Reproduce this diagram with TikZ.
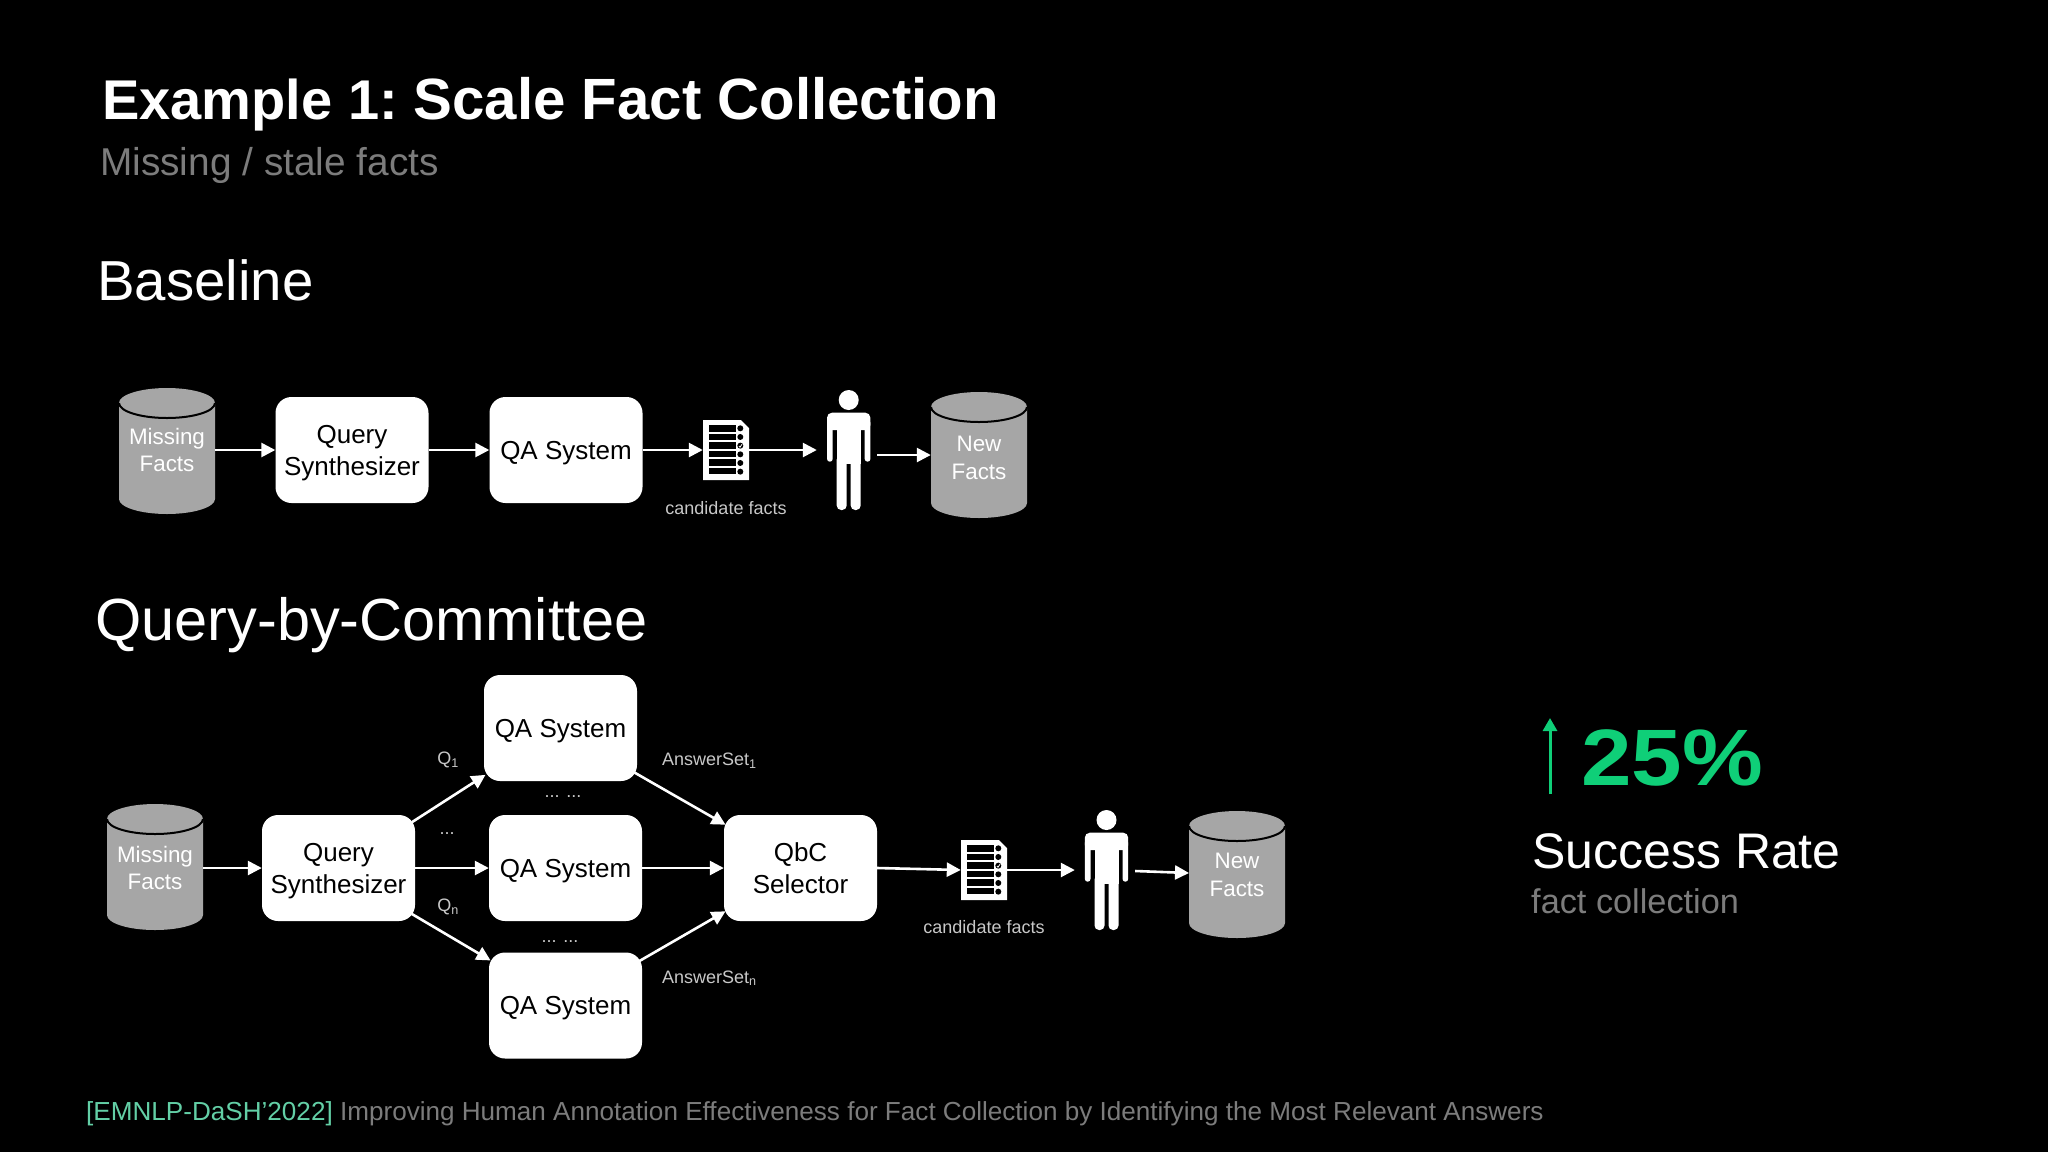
\documentclass[tikz,border=0pt]{standalone}
\usepackage{fontspec}
\setmainfont{Liberation Sans}
\usetikzlibrary{arrows.meta}
\definecolor{cylgrey}{HTML}{A6A6A6}
\definecolor{subgrey}{HTML}{7C7C7C}
\definecolor{lablgrey}{HTML}{C8C8C8}
\definecolor{upgreen}{HTML}{0FCF78}
\definecolor{mint}{HTML}{63CFA6}
\newcommand{\fs}[1]{\fontsize{#1}{#1}\selectfont}
\newcommand{\dbcyl}[3]{% cx, top, bottom
  \fill[cylgrey] (#1-48,#2+15) -- (#1-48,#3-15) arc[start angle=180,end angle=0,x radius=48,y radius=15] -- (#1+48,#2+15) -- cycle;
  \fill[cylgrey] (#1,#2+15) ellipse[x radius=48,y radius=15];
  \draw[black,line width=2pt] (#1-48,#2+15) arc[start angle=180,end angle=0,x radius=48,y radius=15];
}
\newcommand{\personfig}[2]{% head centre
  \begin{scope}[shift={(#1,#2)}]
    \fill[white] (0,0) circle[radius=10];
    \fill[white,rounded corners=5pt] (-21.7,12.7) rectangle (21.7,30);
    \fill[white,rounded corners=2.8pt] (-21.7,20) rectangle (-16,61.7);
    \fill[white,rounded corners=2.8pt] (16,20) rectangle (21.7,61.7);
    \fill[white] (-12,20) rectangle (12,64);
    \fill[white,rounded corners=4.5pt] (-12,55) rectangle (-2,110);
    \fill[white,rounded corners=4.5pt] (2,55) rectangle (12,110);
  \end{scope}
}
\newcommand{\docfig}[2]{% top-left corner
  \begin{scope}[shift={(#1,#2)}]
    \fill[white] (0,0) -- (38,0) -- (46,8) -- (46,60) -- (0,60) -- cycle;
    \foreach \i in {0,...,5} {
      \fill[black] (5.7,5+8.5*\i) rectangle (33,5+8.5*\i+6.6);
      \fill[black] (37.3,8.3+8.67*\i) circle[radius=3];
    }
    \draw[white,line width=.8pt] (36,26) -- (37,27.2) -- (39,24.2);
  \end{scope}
}
\tikzset{
  x=1pt,y=-1pt,
  procbox/.style={fill=white,text=black,rounded corners=16pt,minimum width=153pt,minimum height=106pt,inner sep=0pt,align=center,font=\fs{26},text depth=0pt},
  cyltext/.style={text=white,inner sep=0pt,minimum width=96pt,minimum height=20pt,align=center,font=\fs{22.4}},
  iconbox/.style={inner sep=0pt,minimum width=46pt,minimum height=60pt},
  personbox/.style={inner sep=0pt,minimum width=60pt,minimum height=110pt},
  conn/.style={white,line width=2.6pt,-{Triangle[length=14pt,width=14pt]}},
  diag/.style={conn,shorten <=-4pt,shorten >=-2pt},
  small/.style={text=lablgrey,inner sep=0pt,font=\fs{18}},
  txt/.style={anchor=base west,inner sep=0pt},
}
\begin{document}
\begin{tikzpicture}
\fill[black] (0,0) rectangle (2048,1152);
\useasboundingbox (0,0) rectangle (2048,1152);
% headings
\node[txt,text=white,font=\bfseries\fs{56}] (title) at (102,119) {Example 1: \hspace{-5pt}{\fs{58.2}Scale Fact Collection}};
\node[txt,text=subgrey,font=\fs{38.8}] (subtitle) at (100,175) {Missing / stale facts};
\node[txt,text=white,font=\fs{56.4}] (hbase) at (97,300) {Baseline};
\node[txt,text=white,font=\fs{59.5}] (hqbc) at (95,640) {Query-by-Committee};
% baseline row
\dbcyl{167}{388}{514}
\dbcyl{979}{392}{518}
\docfig{703}{420}
\personfig{848.7}{400}
\node[cyltext] (missA) at (167,450) {Missing\\[5pt]Facts};
\node[procbox] (synA) at (352,450) {Query\\[6pt]Synthesizer};
\node[procbox] (qaA) at (566,450) {QA System};
\node[iconbox] (docA) at (726,450) {};
\node[personbox] (perA) at (847,455) {};
\node[cyltext] (newA) at (979,458) {New\\[5pt]Facts};
\node[small,anchor=base] (capA) at (726,514) {candidate facts};
\draw[conn] (missA.east) -- (synA.west);
\draw[conn] (synA.east) -- (qaA.west);
\draw[conn] (qaA.east) -- (docA.west);
\draw[conn] (docA.east) -- (docA.east -| perA.west);
\draw[conn] (perA.east) -- (perA.east -| newA.west);
% QbC row
\dbcyl{155}{804}{930}
\dbcyl{1237}{811}{938}
\docfig{961}{840}
\personfig{1106.5}{820}
\node[cyltext] (missB) at (155,868) {Missing\\[5pt]Facts};
\node[procbox] (synB) at (338.5,868) {Query\\[6pt]Synthesizer};
\node[procbox] (qa1) at (560.5,728) {QA System};
\node[procbox] (qa2) at (565.5,868) {QA System};
\node[procbox] (qa3) at (565.5,1005.5) {QA System};
\node[procbox] (sel) at (800.5,868) {QbC\\[6pt]Selector};
\node[iconbox] (docB) at (984,870) {};
\node[personbox] (perB) at (1105,871) {};
\node[cyltext] (newB) at (1237,875) {New\\[5pt]Facts};
\coordinate (newBin) at (1189,873);
\node[small,anchor=base] (capB) at (984,933) {candidate facts};
\draw[conn] (missB.east) -- (synB.west);
\draw[diag] (synB.32) -- (qa1.212);
\draw[conn] (synB.east) -- (qa2.west);
\draw[diag] (synB.-32) -- (qa3.149);
\draw[diag] (qa1.-31) -- (sel.150);
\draw[conn] (qa2.east) -- (sel.west);
\draw[diag] (qa3.31) -- (sel.210);
\draw[conn] (sel.east) -- (docB.west);
\draw[conn] (docB.east) -- (docB.east -| perB.west);
\draw[conn] (perB.east) -- (newBin);
% small labels
\node[small] (q1) at (448,760) {Q\textsubscript{1}};
\node[small] (qd) at (447,834) {...};
\node[small] (qn) at (448,907) {Q\textsubscript{n}};
\node[small,anchor=west] (as1) at (662,761) {AnswerSet\textsubscript{1}};
\node[small,anchor=west] (asn) at (662,978) {AnswerSet\textsubscript{n}};
\node[small] (dots1) at (563,797) {... ...};
\node[small] (dots2) at (560,942) {... ...};
% right panel
\coordinate (upA) at (1550,794);
\coordinate (upB) at (1550,718);
\draw[upgreen,line width=3pt,-{Triangle[length=13pt,width=14pt]}] (upA) -- (upB);
\node[txt,text=upgreen,font=\bfseries\fs{80}] (pct) at (1581,785) {\scalebox{1.135}[1]{25\%}};
\node[txt,text=white,font=\fs{50}] (rate) at (1532,868) {Success Rate};
\node[txt,text=subgrey,font=\fs{34.3}] (fc) at (1531,913) {fact collection};
% footer
\node[txt,text=subgrey,font=\fs{26.1}] (foot) at (86,1120) {\textcolor{mint}{[EMNLP-DaSH’2022]} Improving Human Annotation Effectiveness for Fact Collection by Identifying the Most Relevant Answers};
\end{tikzpicture}
\end{document}
